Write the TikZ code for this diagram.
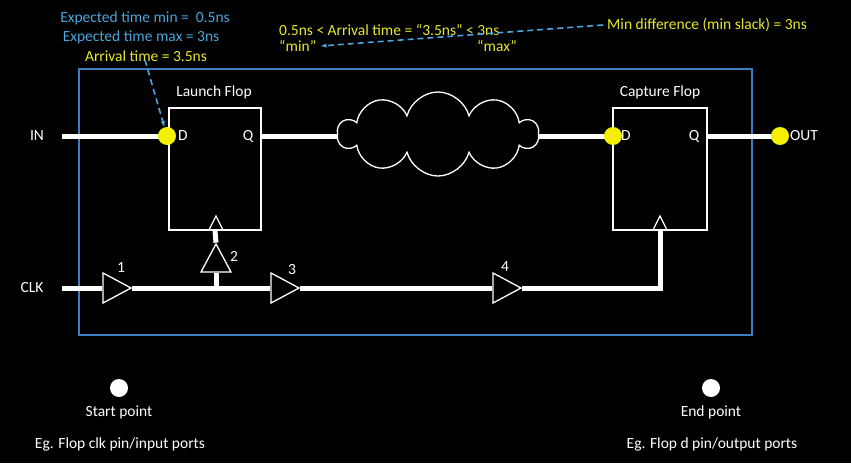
\documentclass[tikz,border=0pt]{standalone}
\usepackage{fontspec}
\setmainfont{Carlito}
\usetikzlibrary{shapes.symbols,shapes.geometric,arrows.meta}
\definecolor{boxblue}{HTML}{3E7CC0}
\definecolor{txtblue}{HTML}{4AA6DC}
\definecolor{ylw}{HTML}{E8E82E}
\definecolor{dot}{HTML}{F5F000}
\begin{document}
\begin{tikzpicture}[x=1pt,y=-1pt,
  txt/.style={text=white,font=\fontsize{15.5}{17}\selectfont,inner sep=0},
  wire/.style={white,line width=5pt},
  thin/.style={white,line width=1.3pt},
  buf/.style={isosceles triangle,draw=white,line width=1.3pt,fill=black,minimum height=28pt,minimum width=30pt,isosceles triangle apex angle=60,inner sep=0,isosceles triangle stretches},
  ydot/.style={circle,fill=dot,minimum size=18pt,inner sep=0},
  wdot/.style={circle,fill=white,minimum size=18pt,inner sep=0},
  dasharrow/.style={txtblue,line width=1.6pt,dash pattern=on 6pt off 4pt,-{Latex[length=6pt]}}]
\fill[black] (0,0) rectangle (851,463);
\useasboundingbox (0,0) rectangle (851,463);
\draw[boxblue,line width=1.8pt] (79,69) rectangle (752,335);
% flops
\node[draw=white,line width=1.3pt,minimum width=92pt,minimum height=122pt,inner sep=0] (lf) at (215,169) {};
\node[draw=white,line width=1.3pt,minimum width=94pt,minimum height=122pt,inner sep=0] (cf) at (660,169) {};
\node[txt] (lfl) at (214,92) {Launch Flop};
\node[txt] (cfl) at (660,92) {Capture Flop};
\node[txt] (ld) at (183,136) {D};
\node[txt] (lq) at (248,136) {Q};
\node[txt] (cd) at (626,136) {D};
\node[txt] (cq) at (694,136) {Q};
% cloud
\node[cloud,cloud puffs=10,draw=white,line width=1.3pt,fill=black,minimum width=200pt,minimum height=84pt,aspect=2.6] (cl) at (438,134) {};
% data wires
\node[txt] (in) at (37,136) {IN};
\coordinate (ins) at (62,136);
\draw[wire] (ins) -- (lf.west |- ins);
\draw[wire] (lf.east |- ins) -- (cl.west |- ins);
\draw[wire] (cl.east |- ins) -- (cf.west |- ins);
\coordinate (oute) at (772,136);
\draw[wire] (cf.east |- ins) -- (oute);
\node[ydot] (d1) at (167,136) {};
\node[ydot] (d2) at (613,136) {};
\node[ydot] (d3) at (780,136) {};
\node[txt,anchor=west] (out) at (790,136) {OUT};
% clock
\node[txt] (clk) at (32,288) {CLK};
\coordinate (cs) at (62,288);
\node[buf] (b1) at (112,288) {};
\node[buf] (b3) at (280,288) {};
\node[buf] (b4) at (502,288) {};
\node[buf,rotate=90] (b2) at (216,263) {};
\coordinate (br) at (216,288);
\coordinate (ce) at (660,288);
\draw[wire] (cs) -- (b1.west);
\draw[wire] (b1.apex) -- (b3.west);
\draw[wire] (b3.apex) -- (b4.west);
\draw[wire] (b4.apex) -- (ce) -- (cf.south);
\draw[wire] (br) -- (b2.west);
\draw[wire] (b2.apex) -- (lf.south);
\draw[thin] (209,230) -- (216,216) -- (223,230);
\draw[thin] (653,230) -- (660,216) -- (667,230);
\node[txt] at (121,268) {1};
\node[txt] at (234,256) {2};
\node[txt] at (292,270) {3};
\node[txt] at (505,267) {4};
% bottom
\node[wdot] (sp) at (119,388) {};
\node[wdot] (ep) at (711,388) {};
\node[txt] at (119,412) {Start point};
\node[txt] at (711,412) {End point};
\node[txt] at (120,444) {Eg. Flop clk pin/input ports};
\node[txt] at (712,444) {Eg. Flop d pin/output ports};
% annotations
\node[txt,text=txtblue] at (145,18) {Expected time min =\ \ 0.5ns};
\node[txt,text=txtblue] at (141,37) {Expected time max = 3ns};
\node[txt,text=ylw] (arr) at (146,56) {Arrival time = 3.5ns};
\draw[dasharrow] (145,60) -- (d1);
\node[txt,text=ylw,anchor=west] at (279,30) {0.5ns < Arrival time = “3.5ns” < 3ns};
\node[txt,text=ylw,anchor=west] (mn) at (279,46) {“min”};
\node[txt,text=ylw] at (497,46) {“max”};
\node[txt,text=ylw,anchor=west] (md) at (607,25) {Min difference (min slack) = 3ns};
\draw[dasharrow] ([xshift=-4pt]md.west) -- ([xshift=4pt]mn.east);
\end{tikzpicture}
\end{document}
